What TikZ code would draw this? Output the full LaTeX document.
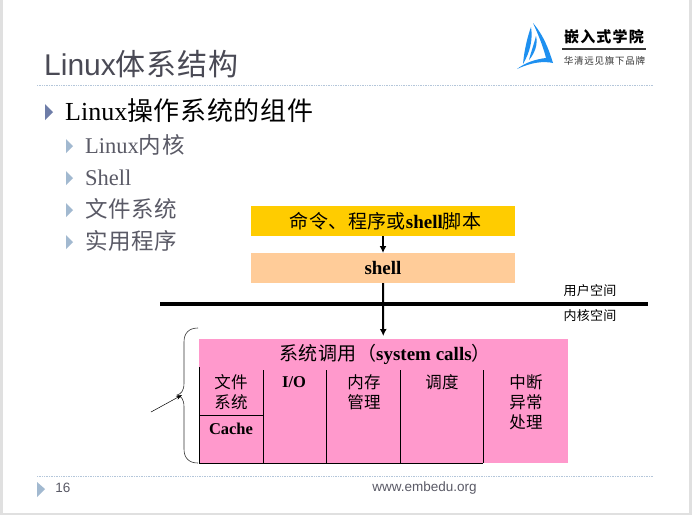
\documentclass[tikz,border=0pt]{standalone}
\usepackage{fontspec}
\usepackage{xcolor}
\setmainfont{Liberation Serif}
\newfontfamily\cjk[LetterSpace=2.5]{Noto Sans CJK SC}
\newfontfamily\logofont[LetterSpace=8]{Noto Sans CJK SC}
\newfontfamily\arialfont{Liberation Sans}
\usetikzlibrary{arrows.meta}
\definecolor{titlegray}{HTML}{4A4A55}
\definecolor{subgray}{HTML}{5A5A66}
\definecolor{dotblue}{HTML}{B4C6DA}
\definecolor{mainbullet}{HTML}{6E7DA8}
\definecolor{subbullet}{HTML}{A2B9D0}
\definecolor{sailblue}{HTML}{1E90F0}
\definecolor{cmdyellow}{HTML}{FFCC00}
\definecolor{shellpeach}{HTML}{FFCC99}
\definecolor{kernelpink}{HTML}{FF99CC}
\newcommand{\zh}[1]{{\cjk\mdseries #1}}
\tikzset{
  item/.style={anchor=west, inner sep=0pt, text=subgray, font=\fontsize{22.5}{26}\selectfont},
  subtri/.style={fill=subbullet, draw=none},
  dotline/.style={dotblue, densely dotted, line width=0.7pt},
  bigbox/.style={minimum width=264pt, minimum height=30pt, inner sep=0pt, outer sep=0pt, font=\fontsize{19}{21}\selectfont\bfseries},
  cell/.style={align=center, inner sep=0pt, font=\fontsize{16.5}{20}\selectfont\bfseries},
  spacelabel/.style={inner sep=0pt, font=\fontsize{13}{15}\selectfont},
  flow/.style={-{Latex[length=7pt,width=7pt]}, line width=2pt},
}
\begin{document}
\begin{tikzpicture}[x=1pt,y=-1pt]
  \useasboundingbox (0,0) rectangle (692,515);
  % Slide frame
  \fill [black!12] (0,0) rectangle (692,515);
  \fill [white] (3,0) rectangle (689,513);

  % Title and logo
  \node [anchor=base west, inner sep=0pt, text=titlegray, font=\arialfont\fontsize{30}{34}\selectfont] (title) at (44,75) {Linux\zh{体系结构}};
  \draw [dotline] (37,85) -- (654,85);
  \fill [sailblue] (533,23) .. controls (544,36) and (549,50) .. (553,63) .. controls (544,61) and (532,62) .. (517,69) .. controls (526,62) and (537,59) .. (546,58) .. controls (543,46) and (538,34) .. (533,23);
  \fill [sailblue] (531,27) .. controls (533,40) and (530,52) .. (523,64) .. controls (524,52) and (527,38) .. (531,27);
  \fill [sailblue] (536,36) .. controls (538,44) and (535,53) .. (529,60) .. controls (531,52) and (534,44) .. (536,36);
  \node [inner sep=0pt, font=\fontsize{15}{16}\selectfont\bfseries] (logoname) at (604,37) {\logofont\bfseries 嵌入式学院};
  \draw [line width=1.4pt, black!80] (562,49) -- (646,49);
  \node [inner sep=0pt, font=\fontsize{9.5}{11}\selectfont, text=black!80] (logosub) at (604.5,60.5) {\logofont 华清远见旗下品牌};

  % Bullets
  \fill [mainbullet] (45,104) -- (53,112) -- (45,120) -- cycle;
  \node [anchor=base west, inner sep=0pt, font=\fontsize{26}{30}\selectfont] (head) at (65,120) {Linux\zh{操作系统的组件}};
  \fill [subtri] (66,139) -- (73,146) -- (66,153) -- cycle;
  \node [item] (kernel) at (85,145) {Linux\zh{内核}};
  \fill [subtri] (66,171) -- (73,178) -- (66,185) -- cycle;
  \node [item] (shellitem) at (85,178) {Shell};
  \fill [subtri] (66,203) -- (73,210) -- (66,217) -- cycle;
  \node [item] (fsitem) at (85,209) {\zh{文件系统}};
  \fill [subtri] (66,235) -- (73,242) -- (66,249) -- cycle;
  \node [item] (toolitem) at (85,241) {\zh{实用程序}};

  % Define blocks
  \node [bigbox, fill=cmdyellow] (cmd) at (383,221) {\hspace*{5pt}\zh{命令、程序或}shell\zh{脚本}};
  \node [bigbox, fill=shellpeach] (shell) at (383,268) {shell};
  \coordinate (spaceleft) at (160,304);
  \coordinate (spaceright) at (648,304);
  \node [spacelabel] (userspace) at (590,291) {\zh{用户空间}};
  \node [spacelabel] (kernelspace) at (590,316) {\zh{内核空间}};
  \node [fill=kernelpink, minimum width=369pt, minimum height=124pt, inner sep=0pt, outer sep=0pt] (kernelbox) at (383.5,401) {};
  \node [inner sep=0pt, font=\fontsize{19}{21}\selectfont\bfseries] (syscall) at (385,354) {\zh{系统调用（}system calls\zh{）}};
  \node [cell] (fs) at (231,392) {\zh{文件}\\\zh{系统}};
  \node [cell] (cache) at (231,429) {Cache};
  \node [cell] (io) at (294,382) {I/O};
  \node [cell] (mem) at (364,392) {\zh{内存}\\\zh{管理}};
  \node [cell] (sched) at (442,382) {\zh{调度}};
  \node [cell] (irq) at (526,402) {\zh{中断}\\\zh{异常}\\\zh{处理}};

  % Dividers inside the kernel block
  \foreach \xdiv in {263,326,400,483}
    \draw [line width=0.8pt] (\xdiv,370) -- (\xdiv,463);
  \draw [line width=0.8pt] (199,367) -- (199,463) -- (483,463);
  \draw [line width=0.8pt] (199,415) -- (263,415);

  % Brace and its pointer
  \coordinate (bracetip) at (177,395);
  \coordinate (pointerstart) at (151,412);
  \draw [line width=0.6pt, black!80] (198,328) .. controls (189,328) and (184,333) .. (184,342) -- (184,383) .. controls (184,391) and (181,394) .. (bracetip) .. controls (181,396) and (184,399) .. (184,407) -- (184,449) .. controls (184,458) and (189,463) .. (198,463);
  \draw [-{Stealth[length=6pt,width=4pt]}, line width=0.5pt] (pointerstart) -- (182,395);

  % Connect blocks with arrows
  \draw [line width=3.4pt] (spaceleft) -- (spaceright);
  \draw [flow] (cmd) -- (shell);
  \draw [flow, shorten >=3pt] (shell) -- (kernelbox);

  % Footer
  \draw [dotline] (37,476) -- (654,476);
  \fill [subbullet] (37,482) -- (45,489) -- (37,497) -- cycle;
  \node [inner sep=0pt, text=subgray, font=\arialfont\fontsize{13.5}{16}\selectfont] (pagenum) at (63,488) {16};
  \node [inner sep=0pt, text=subgray, font=\arialfont\fontsize{13.5}{16}\selectfont] (website) at (424.5,488) {www.embedu.org};
\end{tikzpicture}
\end{document}
